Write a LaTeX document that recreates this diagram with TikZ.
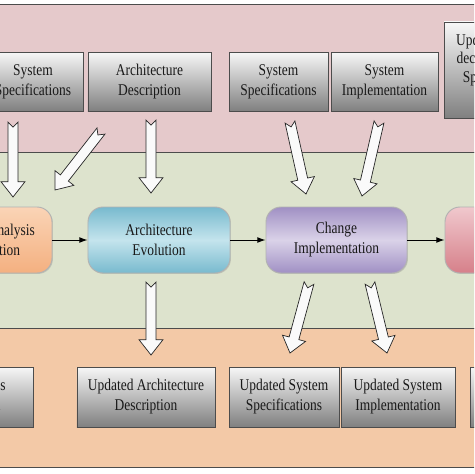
\documentclass[tikz,border=0pt]{standalone}
\usepackage{fontspec}
\newfontfamily\boxfont{Liberation Serif}[FakeStretch=0.82]
\usetikzlibrary{calc,arrows.meta,shadows}

\definecolor{bandtop}{RGB}{229,201,203}
\definecolor{bandmid}{RGB}{221,227,205}
\definecolor{bandbot}{RGB}{243,201,167}
\definecolor{evolA}{RGB}{120,186,206}
\definecolor{evolB}{RGB}{196,228,237}
\definecolor{implA}{RGB}{160,144,196}
\definecolor{implB}{RGB}{218,210,232}
\definecolor{anaA}{RGB}{244,176,128}
\definecolor{anaB}{RGB}{250,212,182}
\definecolor{verA}{RGB}{214,128,138}
\definecolor{verB}{RGB}{240,200,205}

% sizes of the hollow block arrows
\newcommand{\shafthalf}{4.3pt}
\newcommand{\headhalf}{10.2pt}
\newcommand{\headlen}{13pt}
\newcommand{\tailnotch}{4.3pt}
% hollow block arrow with notched tail, from #1 to #2
\newcommand{\fatarrow}[2]{%
  \draw[fatarr] ($(#1)!\shafthalf!90:(#2)$)
    -- ($(#2)!\headlen!(#1)!\shafthalf!-90:(#1)$)
    -- ($(#2)!\headlen!(#1)!\headhalf!-90:(#1)$)
    -- (#2)
    -- ($(#2)!\headlen!(#1)!\headhalf!90:(#1)$)
    -- ($(#2)!\headlen!(#1)!\shafthalf!90:(#1)$)
    -- ($(#1)!\shafthalf!-90:(#2)$)
    -- ($(#1)!\tailnotch!(#2)$) -- cycle;}

\tikzset{fatarr/.style={draw=black!85, fill=gray!4, line width=0.6pt, line join=miter}}

\begin{document}
\begin{tikzpicture}[
    x=0.03cm, y=-0.03cm,
    band/.style={draw=black!70, line width=0.6pt},
    docbox/.style={draw=black!70, line width=0.7pt, top color=gray!6, bottom color=black!50,
        minimum height=1.77cm, inner sep=2pt, align=center, text=black!90,
        font=\boxfont\fontsize{14}{17}\selectfont,
        drop shadow={shadow xshift=0.8pt, shadow yshift=-0.8pt, opacity=0.35}},
    stepnode/.style={draw=black!30, line width=0.8pt, rounded corners=0.45cm,
        minimum height=1.98cm, inner sep=2pt, align=center, text=black!90,
        font=\boxfont\fontsize{14}{17}\selectfont,
        drop shadow={shadow xshift=0.8pt, shadow yshift=-0.8pt, opacity=0.3}},
    arr/.style={-{Latex[length=7pt,width=5pt]}, line width=0.8pt, black}
]
    \useasboundingbox (0,0) rectangle (474,474);
    \fill[white] (0,0) rectangle (474,474);
    \clip (0,0) rectangle (474,474);

    % --- Bands ---
    \filldraw[band, fill=bandtop] (-10,4) rectangle (484,152);
    \filldraw[band, fill=bandmid] (-10,152) rectangle (484,328);
    \filldraw[band, fill=bandbot] (-10,328) rectangle (484,467);

    % --- Inputs (top band) ---
    \node[docbox, minimum width=3.0cm] (sysspec) at (33,81.5) {System\\Specifications};
    \node[docbox, minimum width=3.69cm] (archdesc) at (149.5,81.5) {Architecture\\Description};
    \node[docbox, minimum width=2.97cm] (sysspecb) at (278.5,81.5) {System\\Specifications};
    \node[docbox, minimum width=3.21cm] (sysimpl) at (384.5,81.5) {System\\Implementation};
    \node[docbox, minimum width=2.1cm, minimum height=2.88cm, font=\boxfont\fontsize{14}{15.5}\selectfont] (upddec) at (479,70) {Updated\\decision\\Space\\\strut};

    % --- Process steps (middle band) ---
    \node[stepnode, minimum width=3.66cm, top color=anaB, bottom color=anaA] (impact) at (-9,240) {Impact Analysis\\Evaluation};
    \node[stepnode, minimum width=4.26cm, top color=evolA, bottom color=evolA, middle color=evolB] (archevol) at (159,240) {Architecture\\Evolution};
    \node[stepnode, minimum width=4.23cm, top color=implA, bottom color=implA, middle color=implB] (changeimpl) at (336.5,240) {Change\\Implementation};
    \node[stepnode, minimum width=4.2cm, top color=verB, bottom color=verA] (verif) at (515,240) {};

    \draw[arr] (impact) -- (archevol);
    \draw[arr] (archevol) -- (changeimpl);
    \draw[arr] (changeimpl) -- (verif);

    % --- Outputs (bottom band) ---
    \node[docbox, minimum width=3.06cm, minimum height=1.8cm] (updrep) at (-18,397) {Analysis\\Report};
    \node[docbox, minimum width=4.14cm, minimum height=1.8cm] (updarch) at (146,397) {Updated Architecture\\Description};
    \node[docbox, minimum width=3.3cm, minimum height=1.8cm] (updspec) at (284,397) {Updated System\\Specifications};
    \node[docbox, minimum width=3.42cm, minimum height=1.8cm] (updimpl) at (398,397) {Updated System\\Implementation};
    \node[docbox, minimum width=3.3cm, minimum height=1.8cm] (updnext) at (525,397) {};

    % --- Block arrows ---
    \coordinate (a1s) at (13,122);   \coordinate (a1e) at (13,197);
    \coordinate (a2s) at (101,131);  \coordinate (a2e) at (55,190);
    \coordinate (a3s) at (151,120);  \coordinate (a3e) at (151,193);
    \coordinate (a4s) at (290,122);  \coordinate (a4e) at (306,194);
    \coordinate (a5s) at (379,122);  \coordinate (a5e) at (362,196);
    \coordinate (a6s) at (151,282);  \coordinate (a6e) at (151,355);
    \coordinate (a7s) at (309,283);  \coordinate (a7e) at (290,353);
    \coordinate (a8s) at (370,283);  \coordinate (a8e) at (387,353);
    \foreach \k in {1,...,8} {\fatarrow{a\k s}{a\k e}}
\end{tikzpicture}
\end{document}
